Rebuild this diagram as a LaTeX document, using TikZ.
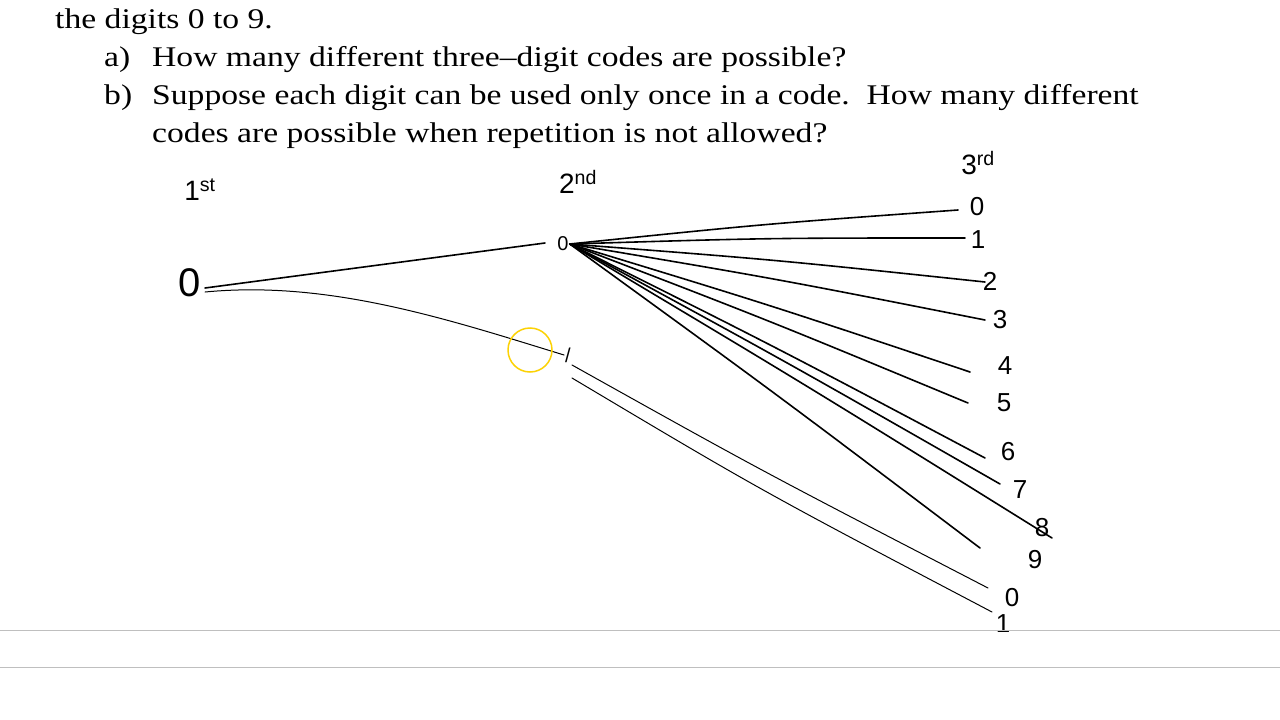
\documentclass[tikz,border=0pt]{standalone}
\usepackage{fontspec}
\setmainfont[FakeStretch=1.18]{Liberation Serif}
\newfontfamily\hand{Liberation Sans}
\begin{document}
\begin{tikzpicture}[x=1pt,y=-1pt,
  txt/.style={anchor=base west,inner sep=0pt,font=\fontsize{28.5}{28}\selectfont},
  lbl/.style={inner sep=1pt,font=\hand\fontsize{28}{28}\selectfont},
  sm/.style={inner sep=1pt,font=\hand\fontsize{26}{26}\selectfont},
  br/.style={line width=1.6pt,line cap=round},
  thin/.style={line width=1pt,line cap=round}]
\useasboundingbox[fill=white] (0,0) rectangle (1280,720);
\node[txt] (t1) at (55,28) {the digits 0 to 9.};
\node[txt] (la) at (104,66) {a)};
\node[txt] (t2) at (152,66) {How many different three--digit codes are possible?};
\node[txt] (lb) at (104,104) {b)};
\node[txt] (t3) at (152,104) {Suppose each digit can be used only once in a code.\ \ How many different};
\node[txt] (t4) at (152,142) {codes are possible when repetition is not allowed?};
\node[lbl] (h1) at (200,190) {1\textsuperscript{\hand st}};
\node[lbl] (h2) at (578,182) {2\textsuperscript{\hand nd}};
\node[lbl] (h3) at (978,163) {3\textsuperscript{\hand rd}};
\node[lbl,font=\hand\fontsize{40}{40}\selectfont] (a0) at (190,283) {0};
\node[sm,font=\hand\fontsize{20}{20}\selectfont] (b0) at (563,244) {0};
\node[sm,font=\hand\fontsize{20}{20}\selectfont] (b1) at (568,355) {/};
\coordinate (a0r) at (205,288);
\draw[br] (a0r) -- (545,243);
\draw[thin] (205,292) .. controls (330,280) and (450,320) .. (b1.west);
\foreach \n/\x/\y/\ex/\ey in {0/977/207/958/210, 1/978/240/965/238, 2/990/281/985/282, 3/1000/320/985/320,
  4/1005/366/970/372, 5/1004/403/968/403, 6/1008/452/985/458, 7/1020/490/1000/484, 8/1042/528/1052/538, 9/1035/560/980/548}{
  \node[sm] (c\n) at (\x,\y) {\n};
  \draw[br] (b0.east) .. controls ({(570+\ex)/2}, {(246+\ey)/2-4}) .. (\ex,\ey);
}
\node[sm] (d0) at (1012,598) {0};
\node[sm] (d1) at (1003,624) {1};
\draw[thin] (572,365) .. controls (760,470) .. (988,588);
\draw[thin] (572,378) .. controls (760,490) .. (992,612);
\draw[yellow!70!orange,line width=1.5pt] (530,350) circle (22);
\draw[gray!50,line width=1pt] (0,630) -- (1280,630);
\draw[gray!50,line width=1pt] (0,667) -- (1280,667);
\end{tikzpicture}
\end{document}
